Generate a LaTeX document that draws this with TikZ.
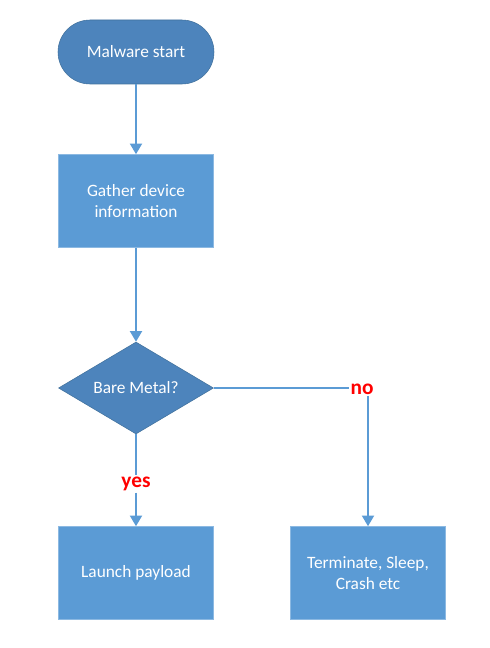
\documentclass[tikz,border=0pt]{standalone}
\usepackage{fontspec}
\setmainfont{Carlito}
\usetikzlibrary{arrows.meta,positioning,shapes.geometric}

\definecolor{darkblue}{HTML}{4D84BC}
\definecolor{boxblue}{HTML}{5B9BD5}
\definecolor{edgeblue}{HTML}{41719C}
\definecolor{lineblue}{HTML}{5B9BD5}
\definecolor{lblred}{HTML}{FF0000}

\tikzset{
  startbox/.style={draw=edgeblue,fill=darkblue,rounded corners=32*0.75pt,
    minimum width=156*0.75pt,minimum height=64*0.75pt,text=white,font=\fontsize{13}{16}\selectfont},
  procbox/.style={draw=boxblue!70!white,fill=boxblue,minimum width=155*0.75pt,
    minimum height=93*0.75pt,text=white,align=center,font=\fontsize{13}{15.75}\selectfont},
  decbox/.style={diamond,draw=edgeblue,fill=darkblue,aspect=1.685,inner sep=0pt,
    minimum width=155*0.75pt,minimum height=92*0.75pt,text=white,font=\fontsize{13}{16}\selectfont},
  lbl/.style={text=lblred,font=\fontsize{16}{18}\selectfont\bfseries,inner sep=1pt},
  flow/.style={draw=lineblue,line width=1.5pt},
  flowarr/.style={flow,-{Triangle[width=9pt,length=8pt]}}
}

\begin{document}
\begin{tikzpicture}[x=0.75pt,y=-0.75pt]
  \useasboundingbox (0,0) rectangle (489,648);
  \node[startbox] (start) at (136,52){Malware start};
  \node[procbox] (gather) at (136,201){Gather device\\information};
  \node[decbox] (bare) at (136,388){Bare Metal?};
  \node[procbox] (launch) at (136,573){Launch payload};
  \node[procbox] (term) at (368,573){Terminate, Sleep,\\Crash etc};
  \node[lbl] (yes) at (136,484){yes};
  \node[lbl] (no) at (362,389){no};
  \draw[flowarr] (start) -- (gather);
  \draw[flowarr] (gather) -- (bare);
  \draw[flow] (bare.south) -- (yes.north);
  \draw[flowarr] (yes.south) -- (launch.north);
  \draw[flow] (bare.east) -- (bare.east -| no.west);
  \draw[flowarr] (no.south -| term.north) -- (term.north);
\end{tikzpicture}
\end{document}
